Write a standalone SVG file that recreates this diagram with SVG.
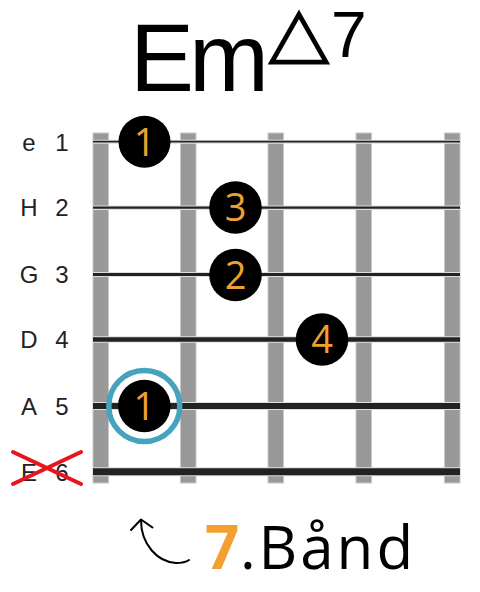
<svg xmlns="http://www.w3.org/2000/svg" width="480" height="592" viewBox="0 0 480 592">
<style>
.fret{fill:#999;stroke:#c8c8c8;stroke-width:1}
.sbg{stroke:#dedede;stroke-linecap:butt}
.str{stroke:#222;stroke-linecap:butt}
.lbl{font-family:"Liberation Sans",Arial,sans-serif;font-size:24px;fill:#222;text-anchor:middle}
.dot{fill:#000}
.num{font-family:"Open Sans","Noto Sans",sans-serif;font-size:38px;fill:#f0a030;text-anchor:middle}
.ft{font-family:"Open Sans","Noto Sans",sans-serif;font-size:60px;fill:#000}
</style>
<rect width="480" height="592" fill="#fff"/>
<g id="title">
<text x="130" y="90.5" font-family="Liberation Sans,Arial,sans-serif" font-size="96" fill="#000" letter-spacing="-5">Em</text>
<text x="299" y="64" font-family="Noto Sans CJK JP,sans-serif" font-size="62" fill="#000" stroke="#000" stroke-width="2.5" text-anchor="middle">△</text>
<text x="331" y="57" font-family="Liberation Sans,Arial,sans-serif" font-size="64" fill="#000">7</text>
</g>
<g id="frets">
<rect class="fret" x="93" y="133" width="15.5" height="350"/>
<rect class="fret" x="180.5" y="133" width="15.5" height="350"/>
<rect class="fret" x="268" y="133" width="15.5" height="350"/>
<rect class="fret" x="356" y="133" width="15.5" height="350"/>
<rect class="fret" x="444.5" y="133" width="15.5" height="350"/>
</g>
<g id="strings">
<line class="sbg" x1="93" y1="141.7" x2="460" y2="141.7" stroke-width="4"/>
<line class="str" x1="93" y1="141.7" x2="460" y2="141.7" stroke-width="1.8"/>
<line class="sbg" x1="93" y1="207.7" x2="460" y2="207.7" stroke-width="4.4"/>
<line class="str" x1="93" y1="207.7" x2="460" y2="207.7" stroke-width="2.2"/>
<line class="sbg" x1="93" y1="274.5" x2="460" y2="274.5" stroke-width="5"/>
<line class="str" x1="93" y1="274.5" x2="460" y2="274.5" stroke-width="3"/>
<line class="sbg" x1="93" y1="339.5" x2="460" y2="339.5" stroke-width="6.5"/>
<line class="str" x1="93" y1="339.5" x2="460" y2="339.5" stroke-width="4.5"/>
<line class="sbg" x1="93" y1="406" x2="460" y2="406" stroke-width="8"/>
<line class="str" x1="93" y1="406" x2="460" y2="406" stroke-width="6"/>
<line class="sbg" x1="93" y1="471.7" x2="460" y2="471.7" stroke-width="9"/>
<line class="str" x1="93" y1="471.7" x2="460" y2="471.7" stroke-width="7"/>
</g>
<g id="labels">
<text class="lbl" x="29" y="150.5">e</text><text class="lbl" x="62" y="150.5">1</text>
<text class="lbl" x="29" y="216">H</text><text class="lbl" x="62" y="216">2</text>
<text class="lbl" x="29" y="283">G</text><text class="lbl" x="62" y="283">3</text>
<text class="lbl" x="29" y="348">D</text><text class="lbl" x="62" y="348">4</text>
<text class="lbl" x="29" y="414.5">A</text><text class="lbl" x="62" y="414.5">5</text>
<text class="lbl" x="29" y="480.5">E</text><text class="lbl" x="62" y="480.5">6</text>
</g>
<g id="mute-x" stroke="#e8141e" stroke-width="4" stroke-linecap="round">
<line x1="13" y1="452" x2="81" y2="484"/>
<line x1="13" y1="484" x2="81" y2="452"/>
</g>
<g id="dot-e1"><circle class="dot" cx="144.5" cy="141.7" r="26"/><text class="num" x="144.5" y="155.5">1</text></g>
<g id="dot-h3"><circle class="dot" cx="235.5" cy="207.5" r="26.3"/><text class="num" x="235.5" y="221.3">3</text></g>
<g id="dot-g2"><circle class="dot" cx="235.5" cy="275" r="26.3"/><text class="num" x="235.5" y="288.8">2</text></g>
<g id="dot-d4"><circle class="dot" cx="322" cy="339.5" r="26.3"/><text class="num" x="322" y="353.3">4</text></g>
<g id="dot-a1"><circle cx="144.3" cy="406" r="35.5" fill="none" stroke="#46a3bd" stroke-width="5.5"/><circle class="dot" cx="144.3" cy="406" r="26.3"/><text class="num" x="144.3" y="419.8">1</text></g>
<g id="connectors"></g>
<g id="footer">
<g fill="none" stroke="#000" stroke-width="2" stroke-linecap="round" stroke-linejoin="round">
<path d="M141,520 C141,545 158,562 176,563 C181,563 186,562 189,560"/>
<path d="M131,530 L141,519.5 L152.5,527.5"/>
</g>
<text class="ft" x="205" y="569" font-weight="bold" style="fill:#f4a030">7</text>
<text class="ft" x="240" y="569">.</text>
<text class="ft" x="258.5" y="569" letter-spacing="3">Bånd</text>
</g>
</svg>
